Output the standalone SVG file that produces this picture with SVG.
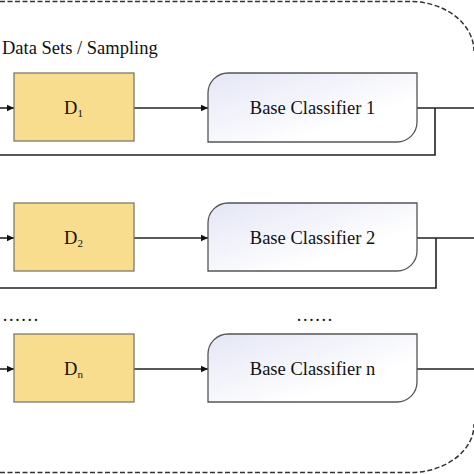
<svg xmlns="http://www.w3.org/2000/svg" width="474" height="474" viewBox="0 0 474 474">
<style>
.d{fill:#f8dd8f;stroke:#7f7a6a;stroke-width:1.3}
.bc{fill:url(#g);stroke:#555;stroke-width:1.3}
.t{font-family:"Liberation Serif",serif;font-size:18.5px;fill:#111}
.c{fill:none;stroke:#222;stroke-width:1.6}
.a{fill:none;stroke:#222;stroke-width:1.6;marker-end:url(#ah)}
.b{fill:none;stroke:#333;stroke-width:1.5;stroke-dasharray:5,2.5}
</style>
<defs>
<linearGradient id="g" x1="0" y1="0" x2="1" y2="1">
<stop offset="0" stop-color="#e4e6f5"/>
<stop offset="0.7" stop-color="#ffffff"/>
</linearGradient>
<marker id="ah" markerWidth="8" markerHeight="8" refX="7" refY="4" orient="auto" markerUnits="userSpaceOnUse">
<path d="M0,0.8 L7,4 L0,7.2 Z" fill="#111"/>
</marker>
</defs>
<path class="b" d="M0,1.5 H410 A64,50 0 0 1 474,51"/>
<path class="b" d="M0,472.5 H410 A64,48 0 0 0 474,424"/>
<text class="t" x="2" y="54">Data Sets / Sampling</text>
<g id="connectors">
<path class="a" d="M0,108 H14"/>
<path class="a" d="M134,108 H208"/>
<path class="c" d="M417,108 H474 M435,108 V155 H0"/>
<path class="a" d="M0,238 H14"/>
<path class="a" d="M134,238 H208"/>
<path class="c" d="M417,238 H474 M436,238 V288 H0"/>
<path class="a" d="M0,369 H14"/>
<path class="a" d="M134,369 H208"/>
<path class="c" d="M417,369 H474"/>
</g>
<g id="d1"><rect class="d" x="14" y="73" width="120" height="68"/><text class="t" x="64" y="114">D<tspan font-size="11" dy="3">1</tspan></text></g>
<g id="bc1"><path class="bc" d="M228,73 H417 V122 A20,20 0 0 1 397,142 H208 V93 A20,20 0 0 1 228,73 Z"/><text class="t" x="312.5" y="114" text-anchor="middle">Base Classifier 1</text></g>
<g id="d2"><rect class="d" x="14" y="203" width="120" height="68"/><text class="t" x="64" y="244">D<tspan font-size="11" dy="3">2</tspan></text></g>
<g id="bc2"><path class="bc" d="M228,203 H417 V251 A20,20 0 0 1 397,271 H208 V223 A20,20 0 0 1 228,203 Z"/><text class="t" x="312.5" y="244" text-anchor="middle">Base Classifier 2</text></g>
<text class="t" x="2" y="321" font-size="15">……</text>
<text class="t" x="296" y="321" font-size="15">……</text>
<g id="dn"><rect class="d" x="14" y="334" width="120" height="68"/><text class="t" x="64" y="375">D<tspan font-size="11" dy="3">n</tspan></text></g>
<g id="bcn"><path class="bc" d="M228,334 H417 V382 A20,20 0 0 1 397,402 H208 V354 A20,20 0 0 1 228,334 Z"/><text class="t" x="312.5" y="375" text-anchor="middle">Base Classifier n</text></g>
</svg>
